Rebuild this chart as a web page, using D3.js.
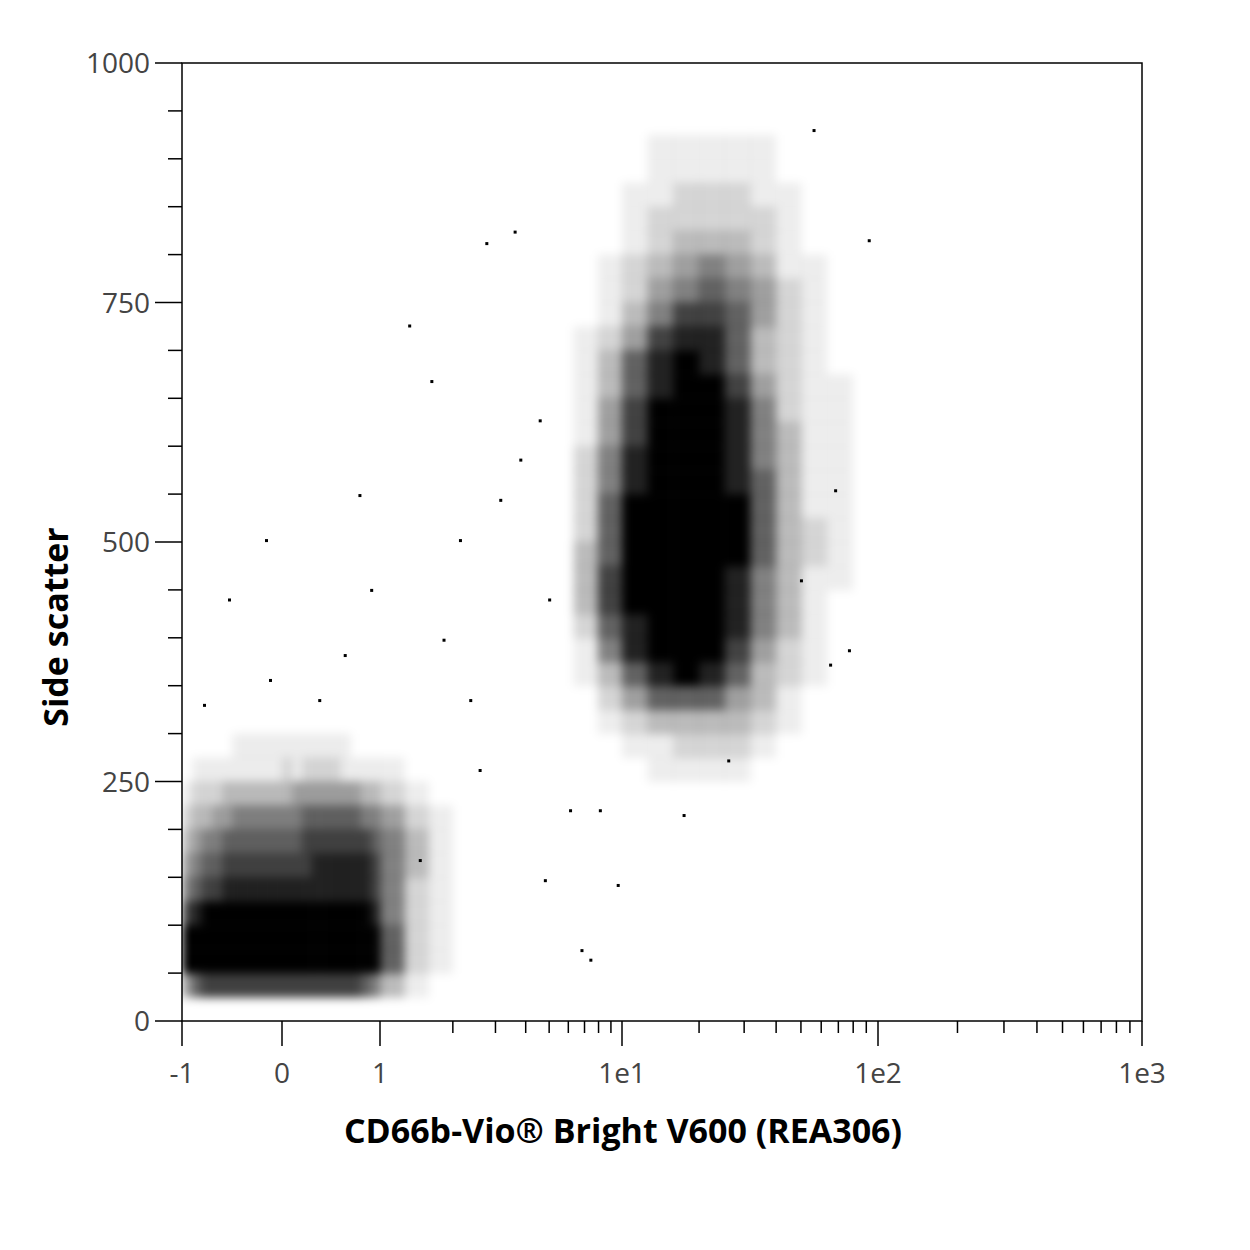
<!DOCTYPE html>
<html>
<head>
<meta charset="utf-8">
<script src="https://cdn.jsdelivr.net/npm/d3@7"></script>
<style>
  body { margin: 0; background: #fff; }
  text { font-family: "Open Sans", "DejaVu Sans", sans-serif; }
</style>
</head>
<body>
<div id="chart"></div>
<script>
// density grid: rows top (y 975-1000) to bottom (y 0-25), step 25
// columns: display units u from -1.0, step 0.1 (u<=1 linear, u>1 = 1+log10(v))
var yStep = 25;
var uStart = -1, uStep = 0.1;
var densityRows = [
  "0000000000000000000000000000000000000000",
  "0000000000000000000000000000000000000000",
  "0000000000000000000000000000000000000000",
  "0000000000000000000000000000000111110000",
  "0000000000000000000000000000000111110000",
  "0000000000000000000000000000001122211000",
  "0000000000000000000000000000001222221000",
  "0000000000000000000000000000001233321000",
  "0000000000000000000000000000012345431100",
  "0000000000000000000000000000012456542100",
  "0000000000000000000000000000013577642100",
  "0000000000000000000000000000124788632100",
  "0000000000000000000000000000136898632100",
  "0000000000000000000000000000136899742110",
  "0000000000000000000000000000147999852110",
  "0000000000000000000000000000147999853110",
  "0000000000000000000000000000258999853110",
  "0000000000000000000000000000258999863110",
  "0000000000000000000000000000269999963110",
  "0000000000000000000000000000269999963210",
  "0000000000000000000000000000369999963210",
  "0000000000000000000000000000379999853110",
  "0000000000000000000000000000379999853100",
  "0000000000000000000000000000268999853100",
  "0000000000000000000000000000158999742100",
  "0000000000000000000000000000136898632100",
  "0000000000000000000000000000024666431000",
  "0000000000000000000000000000012333321000",
  "0000011111111111100000000000001122210000",
  "0111111111212222111110000000000111100000",
  "1222333333344444443321000000000000000000",
  "2334455555556666665542100000000000000000",
  "3455666666667777777653100000000000000000",
  "4566777777777888888753100000000000000000",
  "5677888888888888888752100000000000000000",
  "7899999999999999999852100000000000000000",
  "9999999999999999999962100000000000000000",
  "9999999999999999999962100000000000000000",
  "4677777777777777776531000000000000000000",
  "0000000000000000000000000000000000000000"
];

// sparse events outside the clusters: [CD66b value, side scatter]
var outliers = [
  [-0.16, 502], [0.79, 549], [1.63, 668], [1.32, 726], [2.75, 812], [3.6, 824],
  [1.83, 398], [2.14, 502], [3.14, 544], [3.8, 586], [4.57, 627], [5.0, 440],
  [2.36, 335], [1.46, 168], [2.58, 262], [4.8, 147], [7.4, 64], [6.8, 74],
  [9.6, 142], [17.4, 215], [6.1, 220], [8.1, 220], [26, 272], [77, 387],
  [92, 815], [56, 930], [0.64, 382], [-0.12, 356], [0.91, 450], [0.38, 335],
  [-0.78, 330], [-0.53, 440], [68, 554], [50, 460], [65, 372]
];

var xTickValues = [-1, 0, 1, 10, 100, 1000];
var xTickLabels = ["-1", "0", "1", "1e1", "1e2", "1e3"];
var yTickValues = [0, 250, 500, 750, 1000];

var svgWidth = 1250, svgHeight = 1250;
var svg = d3.select("#chart").append("svg")
  .attr("width", svgWidth).attr("height", svgHeight);

// hybrid linear/log display
function toU(v) { return v <= 1 ? v : 1 + Math.log10(v); }
var uScale = d3.scaleLinear()
  .domain([-1, 0, 1, 2, 3, 4])
  .range([182, 282, 380, 622, 878, 1142]);
var x = function(v) { return uScale(toU(v)); };
var y = d3.scaleLinear().domain([0, 1000]).range([1021, 63]);

var defs = svg.append("defs");
defs.append("clipPath").attr("id", "plot")
  .append("rect").attr("x", 182).attr("y", 63).attr("width", 960).attr("height", 958);
defs.append("filter").attr("id", "soft")
  .attr("x", "-10%").attr("y", "-10%").attr("width", "120%").attr("height", "120%")
  .append("feGaussianBlur").attr("stdDeviation", 5);

var cells = [];
densityRows.forEach(function(row, r) {
  row.split("").forEach(function(ch, c) {
    var d = +ch;
    if (d > 0) cells.push({u: uStart + c * uStep, y: 1000 - (r + 1) * yStep, d: d});
  });
});

var g = svg.append("g").attr("clip-path", "url(#plot)");
g.append("g").attr("filter", "url(#soft)")
  .selectAll("rect").data(cells).enter().append("rect")
  .attr("x", d => uScale(d.u))
  .attr("y", d => y(d.y + yStep))
  .attr("width", d => uScale(d.u + uStep) - uScale(d.u) + 0.5)
  .attr("height", d => y(d.y) - y(d.y + yStep) + 0.5)
  .attr("fill", "#000")
  .attr("fill-opacity", d => Math.pow(d.d / 9, 1.2));

g.selectAll("rect.dot").data(outliers).enter().append("rect")
  .attr("class", "dot")
  .attr("x", d => x(d[0]) - 1)
  .attr("y", d => y(d[1]) - 1)
  .attr("width", 3).attr("height", 3)
  .attr("fill", "#000");

// frame
svg.append("rect").attr("x", 182).attr("y", 63).attr("width", 960).attr("height", 958)
  .attr("fill", "none").attr("stroke", "#000").attr("stroke-width", 1.5);

// y axis ticks
var yMinor = d3.range(0, 1001, 50);
svg.selectAll("line.ytick").data(yMinor).enter().append("line")
  .attr("x1", d => d % 250 === 0 ? 155 : 168).attr("x2", 182)
  .attr("y1", d => y(d)).attr("y2", d => y(d))
  .attr("stroke", "#000").attr("stroke-width", 1.5);
svg.selectAll("text.ylab").data(yTickValues).enter().append("text")
  .attr("x", 150).attr("y", d => y(d) + 10)
  .attr("text-anchor", "end").attr("font-size", 28).attr("fill", "#444")
  .text(d => d);

// x axis ticks
var xMinor = [];
[1, 10, 100].forEach(function(b) {
  d3.range(2, 10).forEach(function(k) { xMinor.push(b * k); });
});
svg.selectAll("line.xminor").data(xMinor).enter().append("line")
  .attr("x1", d => x(d)).attr("x2", d => x(d))
  .attr("y1", 1021).attr("y2", 1033)
  .attr("stroke", "#000").attr("stroke-width", 1.5);
svg.selectAll("line.xmajor").data(xTickValues).enter().append("line")
  .attr("x1", d => x(d)).attr("x2", d => x(d))
  .attr("y1", 1021).attr("y2", 1046)
  .attr("stroke", "#000").attr("stroke-width", 1.5);
svg.selectAll("text.xlab").data(xTickValues).enter().append("text")
  .attr("x", d => x(d)).attr("y", 1083)
  .attr("text-anchor", "middle").attr("font-size", 28).attr("fill", "#444")
  .text((d, i) => xTickLabels[i]);

// axis titles
svg.append("text").attr("x", 623).attr("y", 1143)
  .attr("text-anchor", "middle").attr("font-size", 34).attr("font-weight", "bold")
  .text("CD66b-Vio® Bright V600 (REA306)");
svg.append("text")
  .attr("transform", "translate(68,627) rotate(-90)")
  .attr("text-anchor", "middle").attr("font-size", 34).attr("font-weight", "bold")
  .text("Side scatter");
</script>
</body>
</html>
